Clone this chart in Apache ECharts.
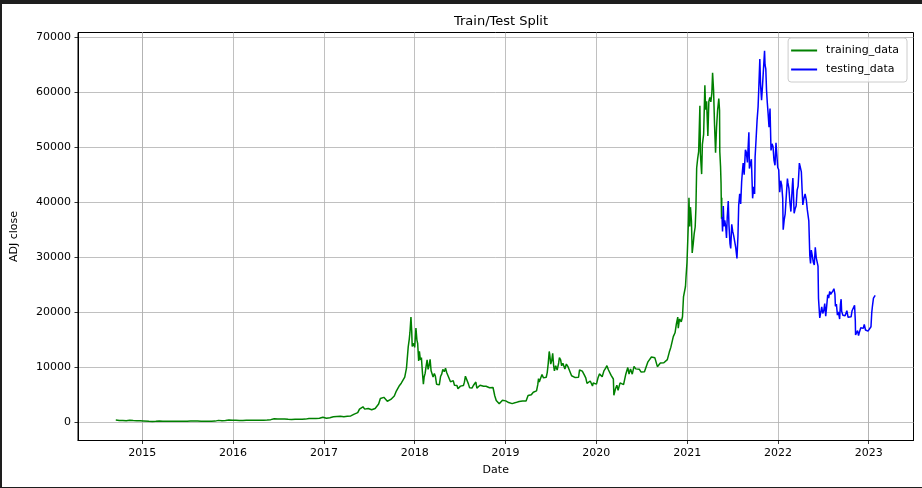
<!DOCTYPE html>
<html>
<head>
<meta charset="utf-8">
<script src="https://cdn.jsdelivr.net/npm/echarts@6/dist/echarts.min.js"></script>
<style>
html,body{margin:0;padding:0;background:#fff;}
#chart{width:922px;height:488px;}
</style>
</head>
<body>
<div id="chart"></div>
<script>
// ---- data ----
const trainDates = ["2014-09-17","2014-10-01","2014-10-15","2014-10-29","2014-11-12","2014-11-26","2014-12-10","2014-12-24",
"2015-01-07","2015-01-14","2015-01-28","2015-02-11","2015-02-25","2015-03-11","2015-03-25","2015-04-08","2015-04-22","2015-05-06","2015-05-20","2015-06-03","2015-06-17","2015-07-01","2015-07-15","2015-07-29","2015-08-12","2015-08-26","2015-09-09","2015-09-23","2015-10-07","2015-10-21","2015-11-04","2015-11-18","2015-12-02","2015-12-16","2015-12-30",
"2016-01-13","2016-01-27","2016-02-10","2016-02-24","2016-03-09","2016-03-23","2016-04-06","2016-04-20","2016-05-04","2016-05-18","2016-06-01","2016-06-15","2016-06-29","2016-07-13","2016-07-27","2016-08-10","2016-08-24","2016-09-07","2016-09-21","2016-10-05","2016-10-19","2016-11-02","2016-11-16","2016-11-30","2016-12-14","2016-12-28",
"2017-01-04","2017-01-11","2017-01-18","2017-01-25","2017-02-01","2017-02-08","2017-02-15","2017-02-22","2017-03-01","2017-03-08","2017-03-15","2017-03-22","2017-03-29","2017-04-05","2017-04-12","2017-04-19","2017-04-26","2017-05-03","2017-05-10","2017-05-17","2017-05-24","2017-05-31","2017-06-07","2017-06-14","2017-06-21","2017-06-28","2017-07-05","2017-07-12","2017-07-19","2017-07-26","2017-08-02","2017-08-09","2017-08-16","2017-08-23","2017-08-30","2017-09-06","2017-09-13","2017-09-20","2017-09-27","2017-10-04","2017-10-11","2017-10-18","2017-10-25","2017-11-01","2017-11-08","2017-11-15","2017-11-22","2017-11-29","2017-12-06","2017-12-10","2017-12-13","2017-12-17","2017-12-20","2017-12-22","2017-12-25","2017-12-28",
"2018-01-01","2018-01-06","2018-01-10","2018-01-13","2018-01-17","2018-01-20","2018-01-24","2018-01-28","2018-02-01","2018-02-05","2018-02-08","2018-02-12","2018-02-16","2018-02-20","2018-02-24","2018-02-28","2018-03-04","2018-03-08","2018-03-12","2018-03-16","2018-03-18","2018-03-21","2018-03-25","2018-03-30","2018-04-05","2018-04-10","2018-04-15","2018-04-20","2018-04-24","2018-04-30","2018-05-05","2018-05-10","2018-05-15","2018-05-20","2018-05-25","2018-05-30","2018-06-05","2018-06-10","2018-06-15","2018-06-20","2018-06-24","2018-06-28","2018-07-04","2018-07-10","2018-07-16","2018-07-20","2018-07-24","2018-07-30","2018-08-05","2018-08-10","2018-08-14","2018-08-20","2018-08-25","2018-08-30","2018-09-04","2018-09-08","2018-09-14","2018-09-21","2018-09-28","2018-10-05","2018-10-11","2018-10-15","2018-10-22","2018-10-29","2018-11-05","2018-11-12","2018-11-15","2018-11-19","2018-11-21","2018-11-25","2018-11-28","2018-12-03","2018-12-07","2018-12-11","2018-12-15","2018-12-20","2018-12-24","2018-12-28",
"2019-01-02","2019-01-09","2019-01-14","2019-01-21","2019-01-28","2019-02-04","2019-02-11","2019-02-18","2019-02-25","2019-03-04","2019-03-11","2019-03-18","2019-03-25","2019-04-02","2019-04-08","2019-04-15","2019-04-23","2019-04-29","2019-05-06","2019-05-11","2019-05-14","2019-05-17","2019-05-22","2019-05-28","2019-06-03","2019-06-10","2019-06-14","2019-06-18","2019-06-22","2019-06-26","2019-06-28","2019-07-02","2019-07-06","2019-07-10","2019-07-14","2019-07-17","2019-07-22","2019-07-28","2019-08-03","2019-08-06","2019-08-11","2019-08-15","2019-08-20","2019-08-24","2019-08-28","2019-09-03","2019-09-10","2019-09-17","2019-09-24","2019-09-30","2019-10-07","2019-10-14","2019-10-22","2019-10-26","2019-10-31","2019-11-06","2019-11-13","2019-11-20","2019-11-25","2019-12-01","2019-12-08","2019-12-13","2019-12-17","2019-12-20","2019-12-27",
"2020-01-02","2020-01-08","2020-01-14","2020-01-19","2020-01-25","2020-02-01","2020-02-08","2020-02-13","2020-02-19","2020-02-25","2020-03-01","2020-03-07","2020-03-10","2020-03-12","2020-03-16","2020-03-19","2020-03-24","2020-03-29","2020-04-06","2020-04-13","2020-04-20","2020-04-29","2020-05-07","2020-05-12","2020-05-18","2020-05-25","2020-06-01","2020-06-08","2020-06-15","2020-06-22","2020-06-29","2020-07-06","2020-07-13","2020-07-20","2020-07-27","2020-08-02","2020-08-10","2020-08-17","2020-08-24","2020-08-31","2020-09-03","2020-09-08","2020-09-15","2020-09-22","2020-09-29","2020-10-06","2020-10-13","2020-10-21","2020-10-27","2020-11-03","2020-11-06","2020-11-13","2020-11-18","2020-11-24","2020-11-26","2020-12-01","2020-12-08","2020-12-13","2020-12-17","2020-12-21","2020-12-25","2020-12-27","2020-12-31",
"2021-01-03","2021-01-06","2021-01-08","2021-01-11","2021-01-14","2021-01-18","2021-01-21","2021-01-25","2021-01-29","2021-02-02","2021-02-05","2021-02-08","2021-02-12","2021-02-16","2021-02-21","2021-02-23","2021-02-28","2021-03-03","2021-03-08","2021-03-13","2021-03-16","2021-03-20","2021-03-25","2021-03-29","2021-04-02","2021-04-06","2021-04-10","2021-04-13","2021-04-17","2021-04-21","2021-04-25","2021-04-29","2021-05-03","2021-05-08","2021-05-11","2021-05-12","2021-05-15","2021-05-17","2021-05-19","2021-05-20"];
const trainValues = [457,383,395,335,424,366,346,322,
294,178,233,220,237,296,246,245,234,229,234,225,250,258,286,288,268,225,238,231,246,268,403,334,360,455,426,
432,395,381,424,412,418,422,442,446,454,537,694,640,652,655,592,580,614,597,612,630,742,744,742,780,975,
1154,777,900,892,989,1054,1010,1126,1222,1150,1254,1048,1040,1134,1210,1208,1318,1535,1756,1805,2446,2192,2865,2444,2710,2570,2613,2333,2270,2566,2710,3378,4383,4318,4583,4597,3870,3905,4200,4209,4826,5605,5904,6737,7144,7301,8233,9888,13750,15059,16408,19140,16624,13831,14027,14380,
13657,17172,14973,14360,11180,12952,11359,11786,9170,6955,8265,8926,10233,11403,9665,10398,11489,9395,9205,8270,8223,8911,8470,6973,6782,6843,8355,8845,9667,9240,9858,9055,8500,8528,7400,7480,7625,6786,6500,6730,6160,5903,6618,6300,6740,7340,8424,8190,7030,6305,6274,6300,6730,7030,7366,6260,6490,6770,6630,6590,6240,6590,6530,6330,6410,6370,5738,4871,4565,4009,4278,3820,3420,3448,3236,4040,4014,3870,
3943,4005,3630,3540,3440,3430,3630,3900,3830,3710,3920,4000,3910,4906,5200,5040,5500,5250,5750,6890,7990,7360,7630,8720,8115,8050,8230,9080,10700,12913,12400,10610,11200,12570,10260,9400,10330,9530,10820,11800,11390,10310,10760,10400,9720,10620,10100,10240,8500,8290,8200,8370,8230,9550,9200,9340,8760,8120,7130,7420,7550,7250,6640,7190,7290,
6985,8080,8840,8710,8330,9390,9880,10330,9600,9320,8560,8910,7910,4970,5010,6200,6770,5880,7200,6840,6880,8790,9990,8820,9730,8790,10200,9750,9450,9690,9190,9340,9240,9160,11030,11050,11900,12250,11750,11680,10150,10130,10800,10520,10850,10600,11430,12800,13650,14000,15600,16300,17800,19160,17150,18800,18300,19200,22800,22700,24700,26300,29000,
32800,36800,40800,35600,39100,36600,30800,32400,34300,35500,38900,46200,47900,49200,57500,48800,45100,50500,52300,61200,56800,58300,52000,58300,59000,58200,59800,63500,60300,53900,49000,53600,56600,58800,56700,49200,46500,43500,37000,40800];

const testDates = ["2021-05-21","2021-05-23","2021-05-26","2021-05-29","2021-06-01","2021-06-05","2021-06-08","2021-06-11","2021-06-15","2021-06-18","2021-06-22","2021-06-25","2021-06-29","2021-07-03","2021-07-07","2021-07-11","2021-07-15","2021-07-20","2021-07-24","2021-07-27","2021-07-31","2021-08-04","2021-08-08","2021-08-11","2021-08-14","2021-08-18","2021-08-23","2021-08-27","2021-08-31","2021-09-03","2021-09-06","2021-09-08","2021-09-12","2021-09-16","2021-09-21","2021-09-25","2021-09-29","2021-10-01","2021-10-05","2021-10-09","2021-10-13","2021-10-16","2021-10-20","2021-10-23","2021-10-27","2021-10-31","2021-11-04","2021-11-08","2021-11-10","2021-11-13","2021-11-16","2021-11-19","2021-11-22","2021-11-26","2021-11-30","2021-12-04","2021-12-08","2021-12-12","2021-12-16","2021-12-20","2021-12-24","2021-12-27","2021-12-31",
"2022-01-04","2022-01-08","2022-01-12","2022-01-16","2022-01-20","2022-01-22","2022-01-26","2022-01-30","2022-02-04","2022-02-08","2022-02-10","2022-02-14","2022-02-18","2022-02-22","2022-02-24","2022-02-28","2022-03-02","2022-03-07","2022-03-11","2022-03-15","2022-03-19","2022-03-23","2022-03-28","2022-04-01","2022-04-05","2022-04-08","2022-04-11","2022-04-15","2022-04-20","2022-04-25","2022-04-29","2022-05-02","2022-05-05","2022-05-09","2022-05-12","2022-05-15","2022-05-19","2022-05-23","2022-05-27","2022-05-31","2022-06-04","2022-06-08","2022-06-11","2022-06-13","2022-06-15","2022-06-18","2022-06-22","2022-06-26","2022-06-30","2022-07-04","2022-07-08","2022-07-12","2022-07-16","2022-07-20","2022-07-24","2022-07-28","2022-08-01","2022-08-05","2022-08-10","2022-08-14","2022-08-18","2022-08-20","2022-08-24","2022-08-28","2022-09-01","2022-09-06","2022-09-09","2022-09-12","2022-09-14","2022-09-19","2022-09-23","2022-09-28","2022-10-02","2022-10-05","2022-10-10","2022-10-13","2022-10-18","2022-10-22","2022-10-26","2022-10-30","2022-11-05","2022-11-08","2022-11-09","2022-11-13","2022-11-17","2022-11-21","2022-11-25","2022-11-30","2022-12-05","2022-12-10","2022-12-14","2022-12-19","2022-12-24","2022-12-29",
"2023-01-02","2023-01-06","2023-01-10","2023-01-13","2023-01-16","2023-01-20","2023-01-24","2023-01-27"];
const testValues = [37300,34700,39300,35600,36700,35500,33500,37300,40200,35800,32500,31600,36000,34700,33900,34200,31800,29800,33800,39400,41500,39700,43800,45600,47100,45000,49500,49000,47200,50000,52700,46100,46000,47800,40700,42800,41500,48200,51500,54900,57300,60900,66000,61300,58500,61300,61000,67500,64900,64200,60300,58100,56300,53600,57000,49400,50600,50100,47600,46700,50800,50600,46300,
45900,41800,43900,43100,40700,35000,36800,37900,41600,44300,43500,42500,40000,38300,38300,43200,44400,38000,38800,39300,42200,42900,47100,46300,45500,42300,39500,40600,41500,40400,38600,38500,36600,30300,28900,31300,30300,29100,28600,31800,29900,30200,28400,22500,22600,19000,20000,21000,19800,20300,21600,19300,21200,23200,22600,23800,23300,23200,23900,24300,23300,21100,21500,19500,20100,18800,21400,22400,20200,19500,19300,19400,19300,20300,19100,19400,19300,19200,20300,20600,21300,18500,15900,16300,16700,15800,16500,17200,17100,17100,17800,16800,16800,16600,
16700,16900,17400,19900,21200,22600,22700,23100];

const yearTicks = ["2015-01-01","2016-01-01","2017-01-01","2018-01-01","2019-01-01","2020-01-01","2021-01-01","2022-01-01","2023-01-01"];
const yTicks = [0,10000,20000,30000,40000,50000,60000,70000];

const FONT = "DejaVu Sans";
const chart = echarts.init(document.getElementById('chart'), null, {renderer:'canvas'});
const pair = (d, v) => d.map((x, i) => [x, v[i]]);

chart.setOption({
  animation: false,
  backgroundColor: '#ffffff',
  title: {
    text: 'Train/Test Split', left: 496, top: 10, textAlign: 'center',
    textStyle: {fontFamily: FONT, fontSize: 13, fontWeight: 'normal', color: '#000'}
  },
  graphic: [
    {type:'rect', shape:{x:0,y:0,width:922,height:4}, style:{fill:'#1e1e1e'}, silent:true},
    {type:'rect', shape:{x:0,y:0,width:2,height:488}, style:{fill:'#1e1e1e'}, silent:true},
    {type:'rect', shape:{x:0,y:487,width:922,height:1}, style:{fill:'#1e1e1e'}, silent:true}
  ],
  legend: {
    data: ['training_data','testing_data'],
    orient: 'vertical', right: 15, top: 38,
    backgroundColor: 'rgba(255,255,255,0.8)', borderColor: '#cccccc', borderWidth: 1, borderRadius: 3,
    padding: [6, 8, 6, 3], itemWidth: 26, itemHeight: 2, itemGap: 6, icon: 'rect',
    textStyle: {fontFamily: FONT, fontSize: 11, lineHeight: 13, color: '#000', padding: [0,0,0,4]}
  },
  grid: {left: 78, top: 32.5, right: 8.5, bottom: 47.5, show: true, borderColor: '#000', borderWidth: 1},
  xAxis: {
    type: 'time', min: '2014-04-18', max: '2023-06-30',
    name: 'Date', nameLocation: 'middle', nameGap: 24,
    nameTextStyle: {fontFamily: FONT, fontSize: 11, color: '#000'},
    axisLine: {show: true, onZero: false, lineStyle: {color: '#000', width: 1}},
    axisTick: {show: true, length: 3.5, lineStyle: {color: '#000', width: 0.8}, customValues: yearTicks},
    axisLabel: {customValues: yearTicks, formatter: '{yyyy}', margin: 7, fontFamily: FONT, fontSize: 11, color: '#000', hideOverlap: false},
    splitLine: {show: true, lineStyle: {color: '#b0b0b0', width: 0.8}}
  },
  yAxis: {
    type: 'value', min: -3250, max: 70800,
    name: 'ADJ close', nameLocation: 'middle', nameGap: 58,
    nameTextStyle: {fontFamily: FONT, fontSize: 11, color: '#000'},
    axisLine: {show: true, onZero: false, lineStyle: {color: '#000', width: 1}},
    axisTick: {show: true, length: 3.5, lineStyle: {color: '#000', width: 0.8}, customValues: yTicks},
    axisLabel: {customValues: yTicks, margin: 7, fontFamily: FONT, fontSize: 11, color: '#000', formatter: v => String(v)},
    splitLine: {show: true, lineStyle: {color: '#b0b0b0', width: 0.8}}
  },
  series: [
    {name: 'training_data', type: 'line', data: pair(trainDates, trainValues), showSymbol: false, symbol: 'none',
     color: 'green', lineStyle: {color: 'green', width: 1.5}},
    {name: 'testing_data', type: 'line', data: pair(testDates, testValues), showSymbol: false, symbol: 'none',
     color: 'blue', lineStyle: {color: 'blue', width: 1.5}}
  ]
});
</script>
</body>
</html>
